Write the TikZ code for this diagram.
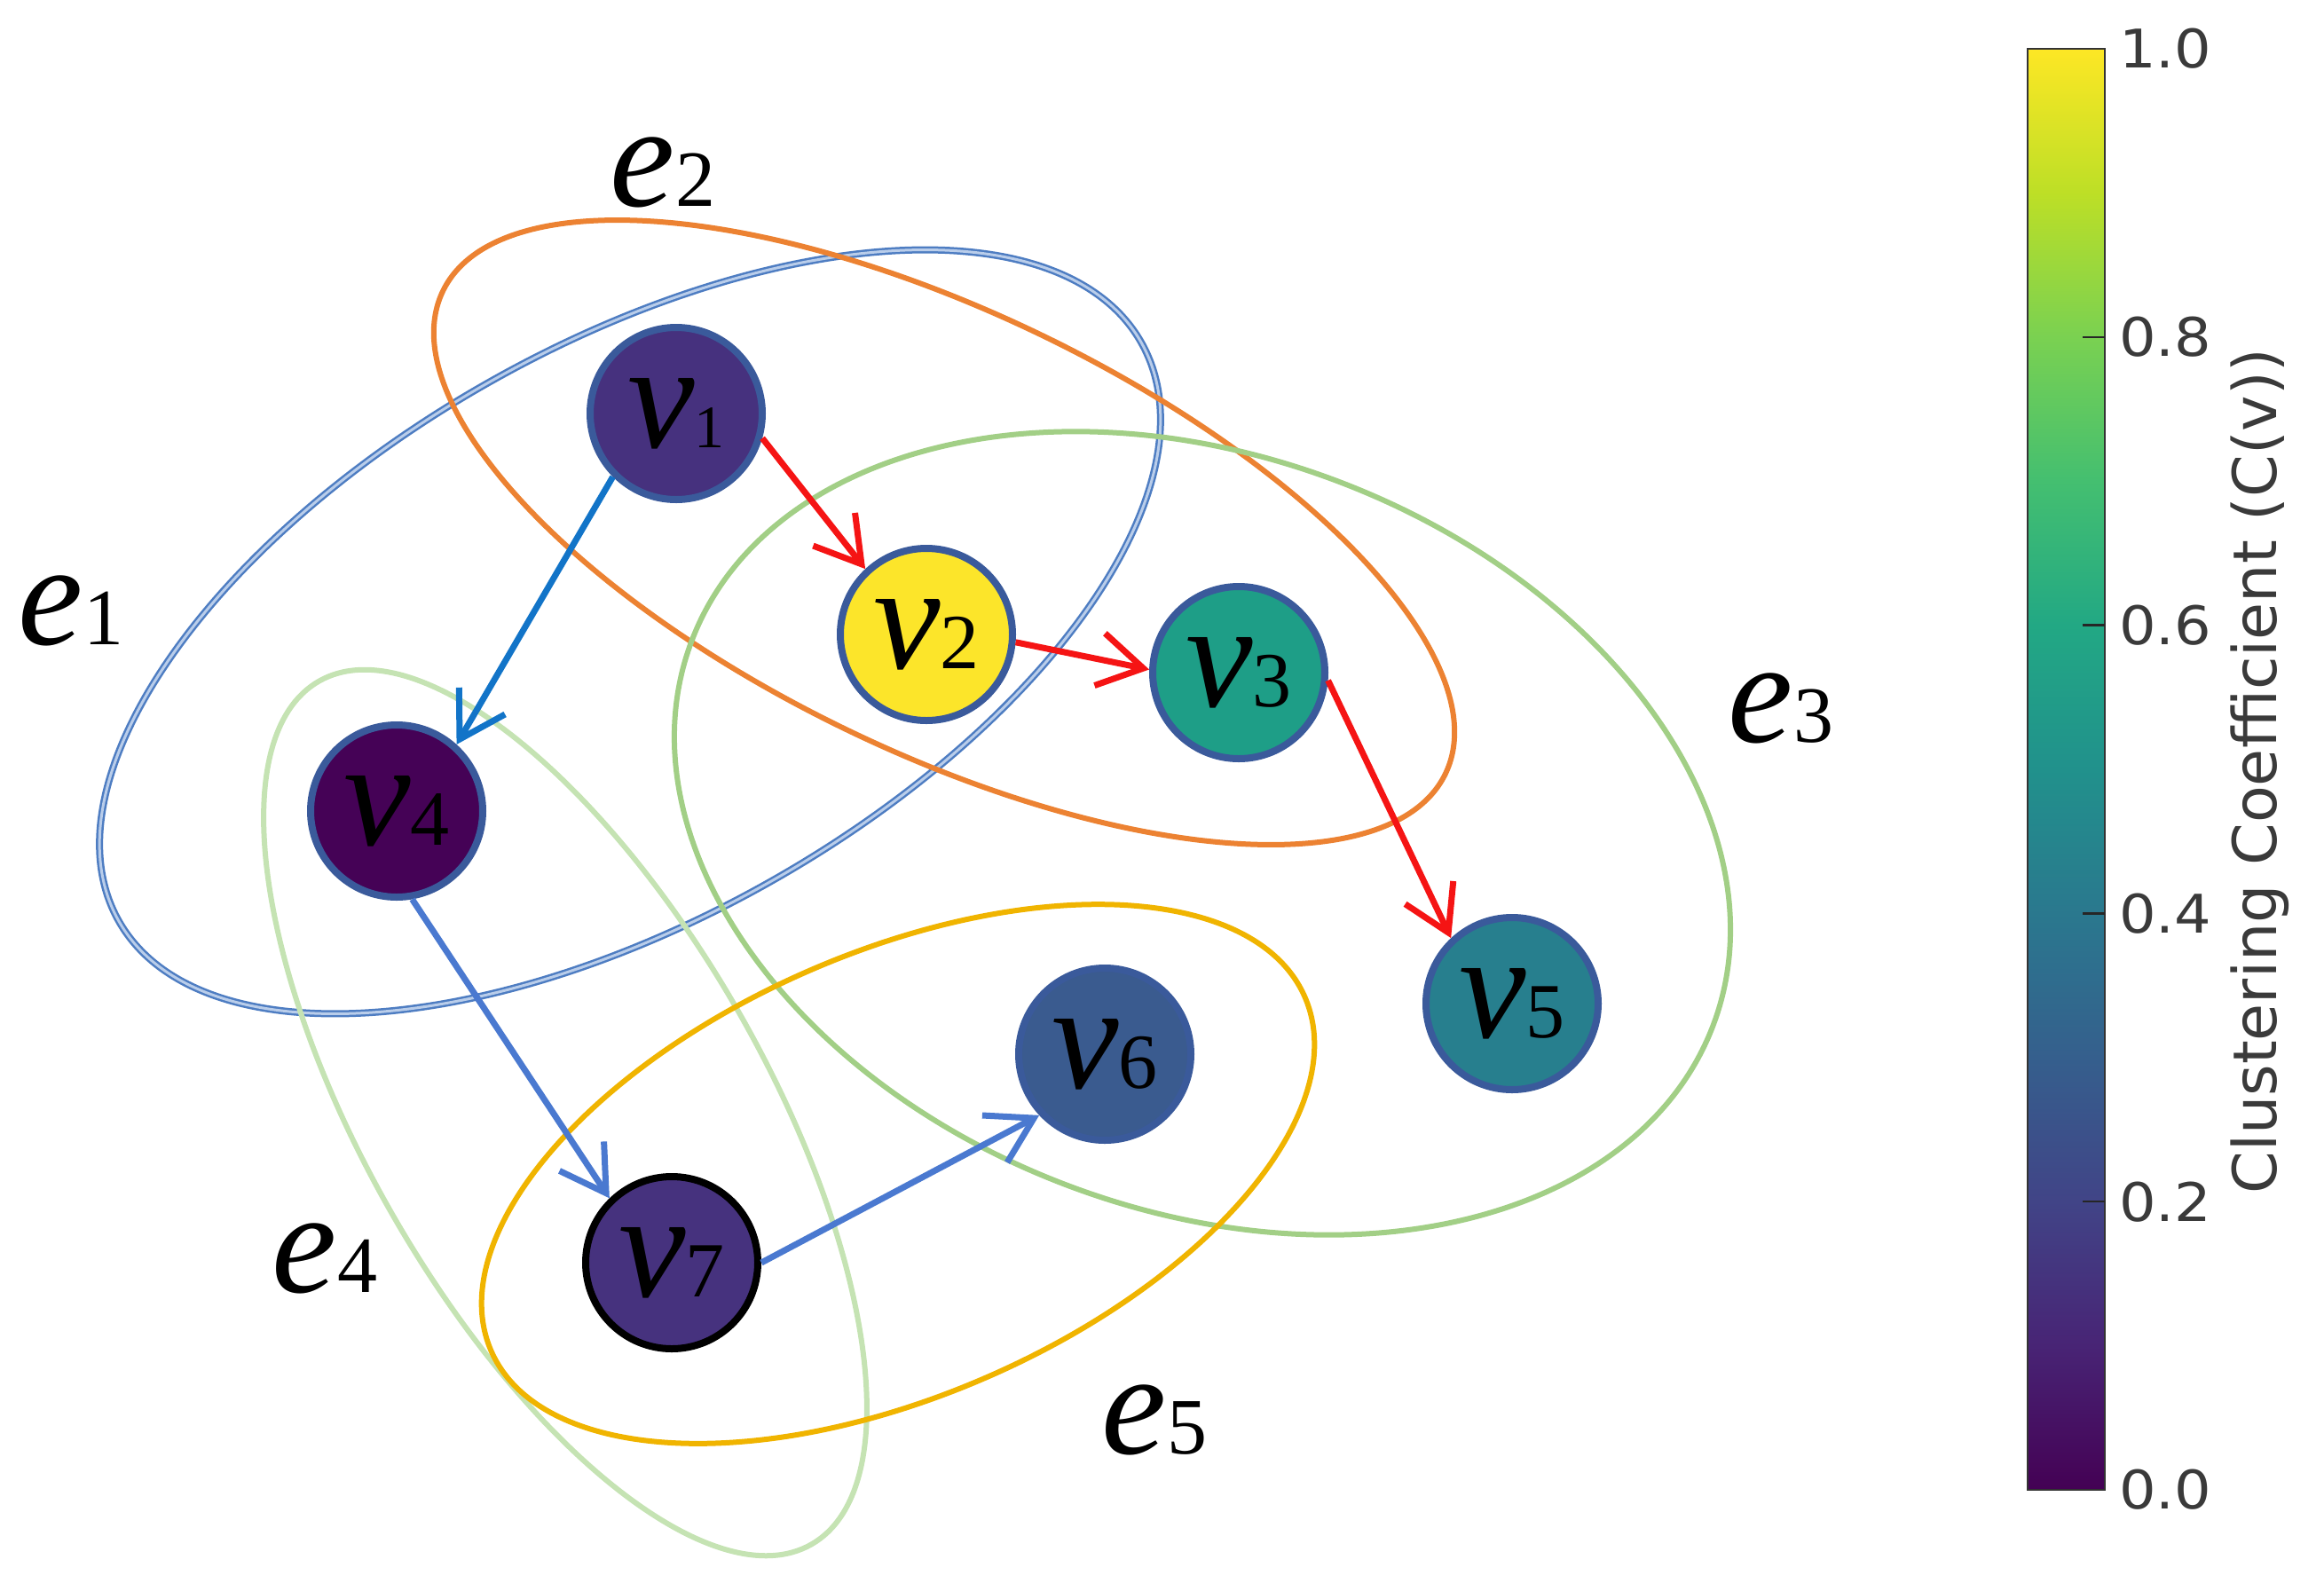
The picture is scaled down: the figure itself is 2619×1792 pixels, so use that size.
\documentclass[tikz,border=0pt]{standalone}
\usepackage{fontspec}
\usepackage{graphicx}
\setmainfont{Liberation Serif}
\newfontfamily\cbfont{DejaVu Sans}
\usetikzlibrary{arrows.meta}

\definecolor{vir0}{HTML}{440154}
\definecolor{vir1}{HTML}{482475}
\definecolor{vir2}{HTML}{414487}
\definecolor{vir3}{HTML}{355F8D}
\definecolor{vir4}{HTML}{2A788E}
\definecolor{vir5}{HTML}{21918C}
\definecolor{vir6}{HTML}{22A884}
\definecolor{vir7}{HTML}{44BF70}
\definecolor{vir8}{HTML}{7AD151}
\definecolor{vir9}{HTML}{BDDF26}
\definecolor{vir10}{HTML}{FDE725}

\definecolor{cvone}{HTML}{46317E}
\definecolor{cvtwo}{HTML}{FCE52A}
\definecolor{cvthree}{HTML}{1E9E87}
\definecolor{cvfour}{HTML}{450256}
\definecolor{cvfive}{HTML}{277F8E}
\definecolor{cvsix}{HTML}{3A5B8F}
\definecolor{cvseven}{HTML}{46327E}
\definecolor{nodeborder}{HTML}{3A5A9B}

\definecolor{redarr}{HTML}{F51414}
\definecolor{bluearrA}{HTML}{1274C8}
\definecolor{bluearrB}{HTML}{4A79D0}

\definecolor{eonecol}{HTML}{4E7DC2}
\definecolor{eoneinner}{HTML}{B9CDEA}
\definecolor{etwocol}{HTML}{EC8232}
\definecolor{ethreecol}{HTML}{A2CF86}
\definecolor{efourcol}{HTML}{C5E3B3}
\definecolor{efivecol}{HTML}{F0B400}
\definecolor{cbtext}{HTML}{3A3A3A}

\pgfdeclareverticalshading{viridisbar}{100bp}{%
color(0bp)=(vir0); color(25bp)=(vir0); color(30bp)=(vir1); color(35bp)=(vir2);
color(40bp)=(vir3); color(45bp)=(vir4); color(50bp)=(vir5); color(55bp)=(vir6);
color(60bp)=(vir7); color(65bp)=(vir8); color(70bp)=(vir9); color(75bp)=(vir10);
color(100bp)=(vir10)}

\newcommand{\vlab}[2]{{\fontsize{170}{170}\selectfont\itshape v}{\fontsize{#2}{#2}\selectfont #1}}
\newcommand{\elab}[1]{{\fontsize{165}{165}\selectfont\itshape e}{\fontsize{90}{90}\selectfont #1}}

\tikzset{
  vnode/.style={circle, minimum size=194pt, inner sep=0pt, line width=8pt, draw=nodeborder},
  arr/.style={line width=7pt, -{Straight Barb[length=50pt,width=60pt]}},
  hyper/.style={line width=6pt},
  elabel/.style={inner sep=0pt},
  tlabel/.style={anchor=west, inner sep=0pt, text=cbtext},
}

\begin{document}
\begin{tikzpicture}[x=1pt,y=-1pt]
\useasboundingbox (0,0) rectangle (2619,1792);

% hyperedges
\draw[draw=eonecol, double=eoneinner, double distance=3pt, line width=2.5pt,
      rotate around={29.5:(710,712)}] (710,712) ellipse [x radius=662pt, y radius=323pt];
\draw[hyper, etwocol, rotate around={-25.7:(1064,600)}] (1064,600) ellipse [x radius=627pt, y radius=248pt];
\draw[hyper, ethreecol, rotate around={-20.5:(1355,939)}] (1355,939) ellipse [x radius=615pt, y radius=425pt];
\draw[hyper, efourcol, rotate around={-60.3:(637,1254)}] (637,1254) ellipse [x radius=560pt, y radius=226pt];
\draw[hyper, efivecol, rotate around={23.5:(1012,1323)}] (1012,1323) ellipse [x radius=500pt, y radius=250pt];

% vertices
\node[vnode, fill=cvone]   (v1) at (762,466)   {\vlab{1}{68}};
\node[vnode, fill=cvtwo]   (v2) at (1044,715)  {\vlab{2}{88}};
\node[vnode, fill=cvthree] (v3) at (1396,758)  {\vlab{3}{88}};
\node[vnode, fill=cvfour]  (v4) at (447,914)   {\vlab{4}{88}};
\node[vnode, fill=cvfive]  (v5) at (1704,1131) {\vlab{5}{88}};
\node[vnode, fill=cvsix]   (v6) at (1245,1188) {\vlab{6}{88}};
\node[vnode, fill=cvseven, draw=black] (v7) at (757,1423) {\vlab{7}{88}};

% directed edges
\draw[arr, redarr] (v1.-16) -- (v2.133);
\draw[arr, redarr] (v2.-5) -- (v3.178);
\draw[arr, redarr] (v3.-5) -- (v5.133);
\draw[arr, bluearrA] (v1.225) -- (v4.48);
\draw[arr, bluearrB] (v4.-80) -- (v7.134);
\draw[arr, bluearrB] (v7.0) -- (v6.-137);

% hyperedge labels
\node[elabel] (le1) at (80,688)    {\elab{1}};
\node[elabel] (le2) at (747,194)   {\elab{2}};
\node[elabel] (le3) at (2007,798)  {\elab{3}};
\node[elabel] (le4) at (366,1418)  {\elab{4}};
\node[elabel] (le5) at (1301,1600) {\elab{5}};

% colorbar
\fill[shading=viridisbar] (2285,55) rectangle (2372,1679);
\draw[line width=2.5pt, black!80] (2285,55) rectangle (2372,1679);
\foreach \yy in {379.8,704.6,1029.4,1354.2} {
  \draw[line width=2.5pt, black!85] (2372,\yy) -- (2347,\yy);
}
\foreach \val/\yy in {1.0/55,0.8/379.8,0.6/704.6,0.4/1029.4,0.2/1354.2,0.0/1679} {
  \node[tlabel] (tick\val) at (2388,\yy) {\resizebox{104pt}{\height}{\cbfont\fontsize{60}{60}\selectfont \val}};
}
\node[rotate=90, inner sep=0pt, text=cbtext] (cblabel) at (2547,869)
  {\resizebox{953pt}{\height}{\cbfont\fontsize{68}{68}\selectfont Clustering Coefficient (C(v))}};
\end{tikzpicture}
\end{document}
